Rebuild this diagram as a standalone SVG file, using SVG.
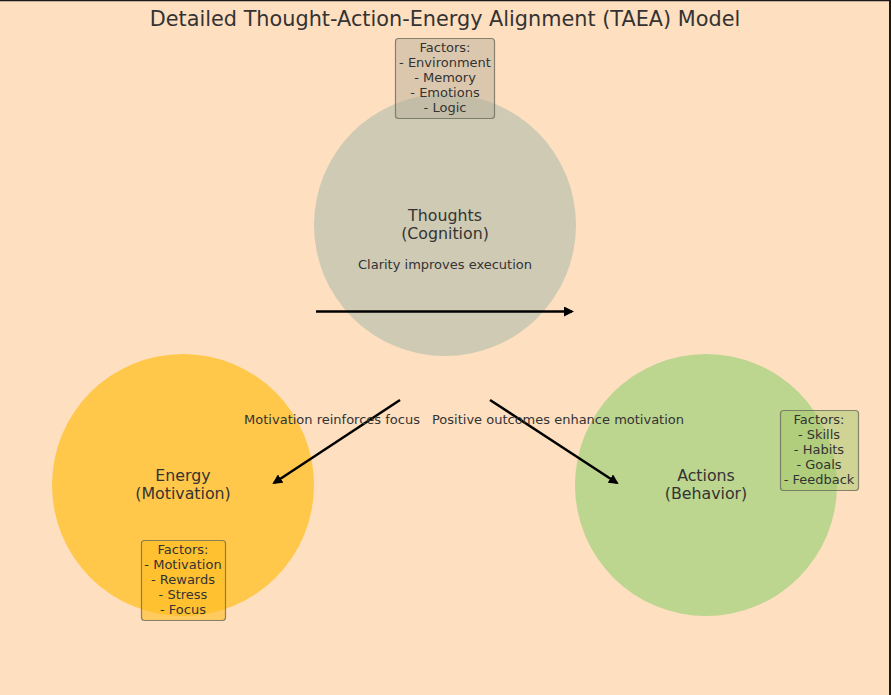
<svg xmlns="http://www.w3.org/2000/svg" width="891" height="695" viewBox="0 0 891 695">
<defs>
<style>
text{font-family:"DejaVu Sans",sans-serif;fill:#333;text-anchor:middle}
.t{font-size:20.8px}
.n{font-size:15.8px}
.s{font-size:13px}
.box{stroke:#6b6b5a;stroke-opacity:0.8;stroke-width:1.2}
.c{stroke:none}
.arr{stroke:#000;stroke-width:2.5;fill:none;marker-end:url(#ah)}
</style>
<marker id="ah" viewBox="0 0 10 10" refX="8" refY="5" markerWidth="4" markerHeight="4" orient="auto" markerUnits="strokeWidth">
<path d="M0,0 L10,5 L0,10 z" fill="#000"/>
</marker>
</defs>
<rect x="0" y="0" width="891" height="695" fill="#fedfc0"/>
<line x1="0" y1="0.5" x2="891" y2="0.5" stroke="#1a1a1a" stroke-width="1.5"/>
<line x1="890" y1="0" x2="890" y2="695" stroke="#1a1a1a" stroke-width="2"/>
<text class="t" x="445" y="26">Detailed Thought-Action-Energy Alignment (TAEA) Model</text>
<g id="thoughts">
<circle class="c" cx="445" cy="225" r="131" fill="#cfcab4"/>
<text class="n" x="445" y="221">Thoughts</text>
<text class="n" x="445" y="239">(Cognition)</text>
<text class="s" x="445" y="269">Clarity improves execution</text>
<rect class="box" x="395.5" y="38.5" width="99" height="80" rx="3" fill="#b8b09a" fill-opacity="0.5"/>
<text class="s" x="445" y="52">Factors:</text>
<text class="s" x="445" y="67">- Environment</text>
<text class="s" x="445" y="82">- Memory</text>
<text class="s" x="445" y="97">- Emotions</text>
<text class="s" x="445" y="112">- Logic</text>
</g>
<g id="energy">
<circle class="c" cx="183" cy="485" r="131" fill="#ffc84a"/>
<text class="n" x="183" y="481">Energy</text>
<text class="n" x="183" y="499">(Motivation)</text>
<rect class="box" x="141.5" y="540.5" width="84" height="80" rx="3" fill="#ffbd20" fill-opacity="0.6"/>
<text class="s" x="183" y="554">Factors:</text>
<text class="s" x="183" y="569">- Motivation</text>
<text class="s" x="183" y="584">- Rewards</text>
<text class="s" x="183" y="599">- Stress</text>
<text class="s" x="183" y="614">- Focus</text>
</g>
<g id="actions">
<circle class="c" cx="706" cy="485" r="131" fill="#bcd58f"/>
<text class="n" x="706" y="481">Actions</text>
<text class="n" x="706" y="499">(Behavior)</text>
<rect class="box" x="780.5" y="410.5" width="78" height="80" rx="3" fill="#a8c870" fill-opacity="0.55"/>
<text class="s" x="819" y="424">Factors:</text>
<text class="s" x="819" y="439">- Skills</text>
<text class="s" x="819" y="454">- Habits</text>
<text class="s" x="819" y="469">- Goals</text>
<text class="s" x="819" y="484">- Feedback</text>
</g>
<g id="connectors">
<line class="arr" x1="316" y1="311.5" x2="572" y2="311.5"/>
<line class="arr" x1="400" y1="400" x2="274" y2="483"/>
<line class="arr" x1="490" y1="400" x2="617" y2="483"/>
<text class="s" x="332" y="424">Motivation reinforces focus</text>
<text class="s" x="558" y="424">Positive outcomes enhance motivation</text>
</g>
</svg>
